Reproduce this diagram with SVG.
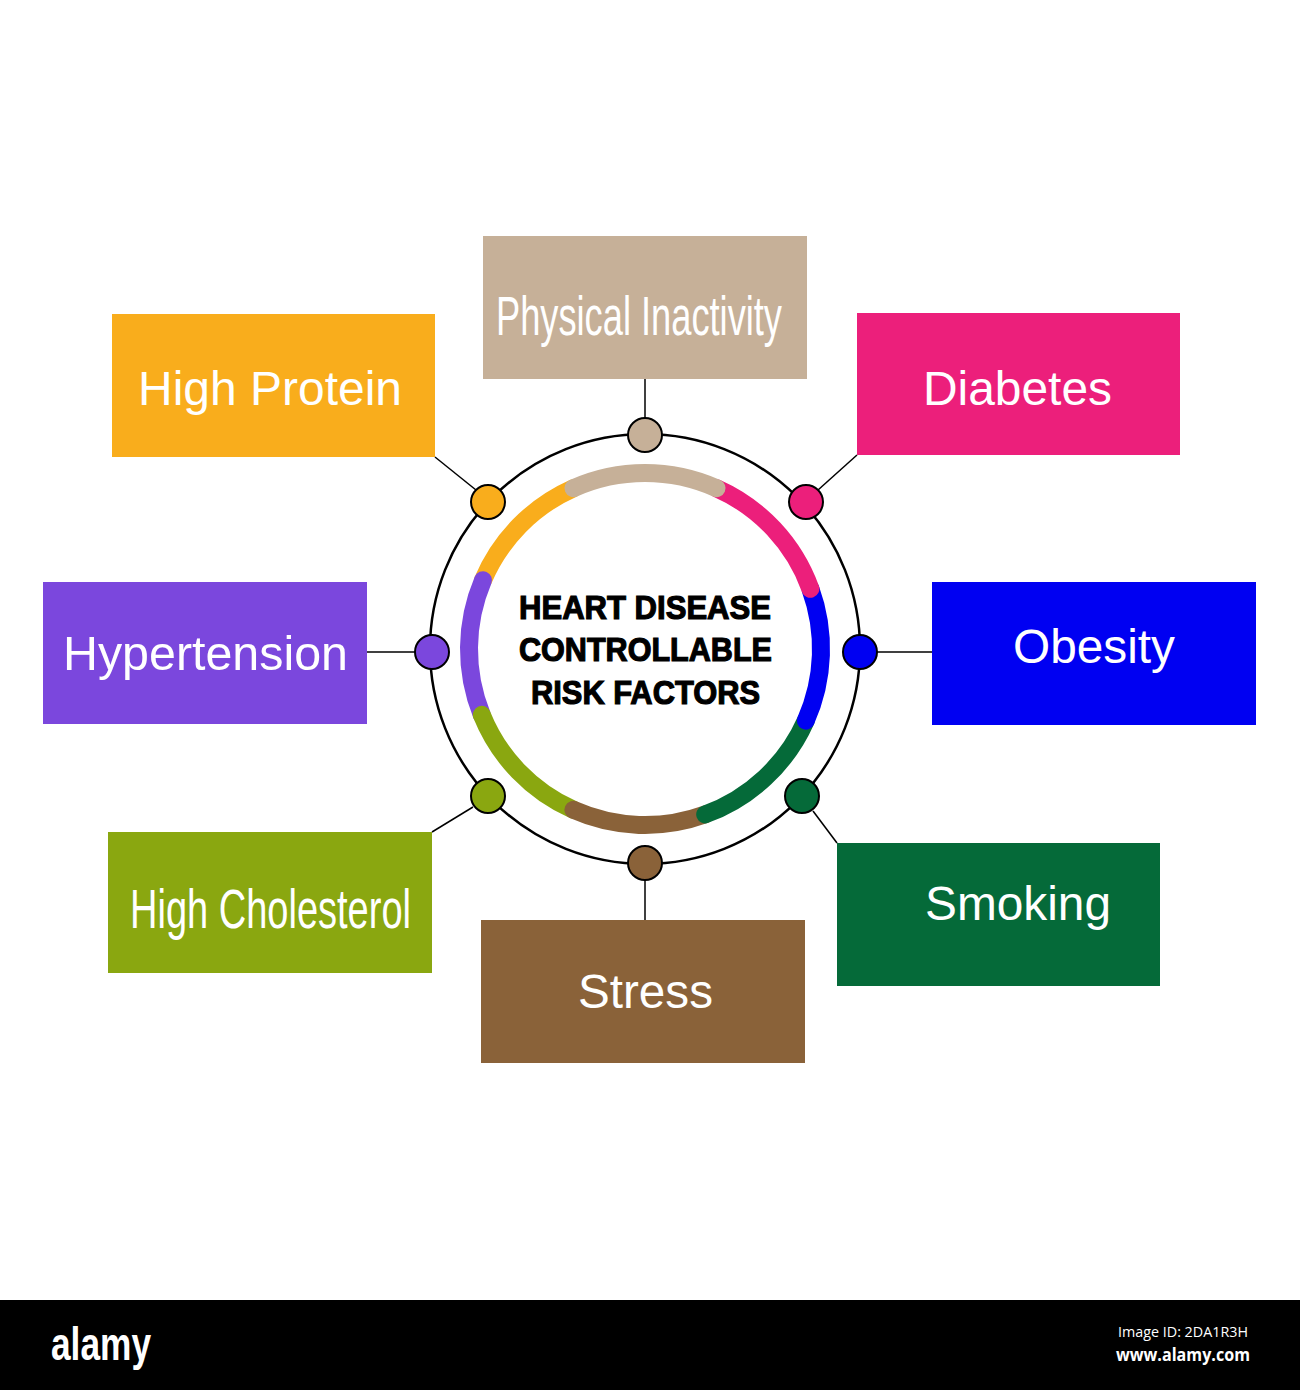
<svg xmlns="http://www.w3.org/2000/svg" width="1300" height="1390" viewBox="0 0 1300 1390">
<style>
.box-text{font-family:"Liberation Sans",Arial,sans-serif;font-size:48px;fill:#ffffff;}
.center-text{font-family:"Liberation Sans",Arial,sans-serif;font-size:34px;font-weight:bold;fill:#000000;stroke:#000000;stroke-width:1.2;}
.conn{stroke:#000;stroke-width:1.5;fill:none;}
.node{stroke:#000;stroke-width:2;}
.seg{fill:none;stroke-width:18;stroke-linecap:round;}
</style>
<rect x="0" y="0" width="1300" height="1390" fill="#ffffff"/>

<g id="connectors">
  <circle cx="645" cy="649" r="215" fill="none" stroke="#000" stroke-width="2.5"/>
  <line class="conn" x1="645" y1="379" x2="645" y2="418"/>
  <line class="conn" x1="435" y1="457" x2="476" y2="490"/>
  <line class="conn" x1="857" y1="455" x2="818" y2="490"/>
  <line class="conn" x1="367" y1="652" x2="416" y2="652"/>
  <line class="conn" x1="877" y1="652" x2="932" y2="652"/>
  <line class="conn" x1="432" y1="832" x2="473" y2="807"/>
  <line class="conn" x1="813" y1="811" x2="837" y2="843"/>
  <line class="conn" x1="645" y1="880" x2="645" y2="920"/>
</g>

<g id="ring">
  <path class="seg" stroke="#f9ad1c" d="M483,580.2 A176,176 0 0 1 573.4,488.2"/>
  <path class="seg" stroke="#7b47dd" d="M481.8,714.9 A176,176 0 0 1 483,580.2"/>
  <path class="seg" stroke="#8aa710" d="M573.4,809.8 A176,176 0 0 1 481.8,714.9"/>
  <path class="seg" stroke="#8a6239" d="M705.2,814.4 A176,176 0 0 1 573.4,809.8"/>
  <path class="seg" stroke="#056a39" d="M805.8,720.6 A176,176 0 0 1 705.2,814.4"/>
  <path class="seg" stroke="#0000f2" d="M810.4,588.8 A176,176 0 0 1 805.8,720.6"/>
  <path class="seg" stroke="#ec1f7b" d="M716.6,488.2 A176,176 0 0 1 810.4,588.8"/>
  <path class="seg" stroke="#c6b098" d="M573.4,488.2 A176,176 0 0 1 716.6,488.2"/>
</g>

<g id="center">
  <text class="center-text" x="519" y="619" textLength="252" lengthAdjust="spacingAndGlyphs">HEART DISEASE</text>
  <text class="center-text" x="519" y="661" textLength="253" lengthAdjust="spacingAndGlyphs">CONTROLLABLE</text>
  <text class="center-text" x="531" y="704" textLength="229" lengthAdjust="spacingAndGlyphs">RISK FACTORS</text>
</g>

<g id="node-physical-inactivity">
  <rect x="483" y="236" width="324" height="143" fill="#c6b098"/>
  <text class="box-text" x="496" y="335" style="font-size:56px" textLength="286" lengthAdjust="spacingAndGlyphs">Physical Inactivity</text>
  <circle class="node" cx="645" cy="435" r="17" fill="#c6b098"/>
</g>

<g id="node-diabetes">
  <rect x="857" y="313" width="323" height="142" fill="#ec1f7b"/>
  <text class="box-text" x="923" y="405" textLength="189" lengthAdjust="spacingAndGlyphs">Diabetes</text>
  <circle class="node" cx="806" cy="502" r="17" fill="#ec1f7b"/>
</g>

<g id="node-obesity">
  <rect x="932" y="582" width="324" height="143" fill="#0000f2"/>
  <text class="box-text" x="1013" y="663" textLength="162" lengthAdjust="spacingAndGlyphs">Obesity</text>
  <circle class="node" cx="860" cy="652" r="17" fill="#0000f2"/>
</g>

<g id="node-smoking">
  <rect x="837" y="843" width="323" height="143" fill="#056a39"/>
  <text class="box-text" x="925" y="920" textLength="186" lengthAdjust="spacingAndGlyphs">Smoking</text>
  <circle class="node" cx="802" cy="796" r="17" fill="#056a39"/>
</g>

<g id="node-stress">
  <rect x="481" y="920" width="324" height="143" fill="#8a6239"/>
  <text class="box-text" x="578" y="1008" textLength="135" lengthAdjust="spacingAndGlyphs">Stress</text>
  <circle class="node" cx="645" cy="863" r="17" fill="#8a6239"/>
</g>

<g id="node-high-cholesterol">
  <rect x="108" y="832" width="324" height="141" fill="#8aa710"/>
  <text class="box-text" x="130" y="928" style="font-size:55px" textLength="281" lengthAdjust="spacingAndGlyphs">High Cholesterol</text>
  <circle class="node" cx="488" cy="796" r="17" fill="#8aa710"/>
</g>

<g id="node-hypertension">
  <rect x="43" y="582" width="324" height="142" fill="#7b47dd"/>
  <text class="box-text" x="63" y="670" textLength="285" lengthAdjust="spacingAndGlyphs">Hypertension</text>
  <circle class="node" cx="432" cy="652" r="17" fill="#7b47dd"/>
</g>

<g id="node-high-protein">
  <rect x="112" y="314" width="323" height="143" fill="#f9ad1c"/>
  <text class="box-text" x="138" y="405" textLength="264" lengthAdjust="spacingAndGlyphs">High Protein</text>
  <circle class="node" cx="488" cy="502" r="17" fill="#f9ad1c"/>
</g>

<g id="footer">
  <rect x="0" y="1300" width="1300" height="90" fill="#000000"/>
  <text x="51" y="1360" font-family="'Liberation Sans',Arial,sans-serif" font-size="46" font-weight="bold" fill="#ffffff" textLength="100" lengthAdjust="spacingAndGlyphs">alamy</text>
  <text x="1118" y="1337" font-family="'Open Sans','Liberation Sans',sans-serif" font-size="15" fill="#ffffff" textLength="130" lengthAdjust="spacingAndGlyphs">Image ID: 2DA1R3H</text>
  <text x="1116" y="1361" font-family="'Open Sans','Liberation Sans',sans-serif" font-size="18" font-weight="bold" fill="#ffffff" textLength="134" lengthAdjust="spacingAndGlyphs">www.alamy.com</text>
</g>
</svg>
